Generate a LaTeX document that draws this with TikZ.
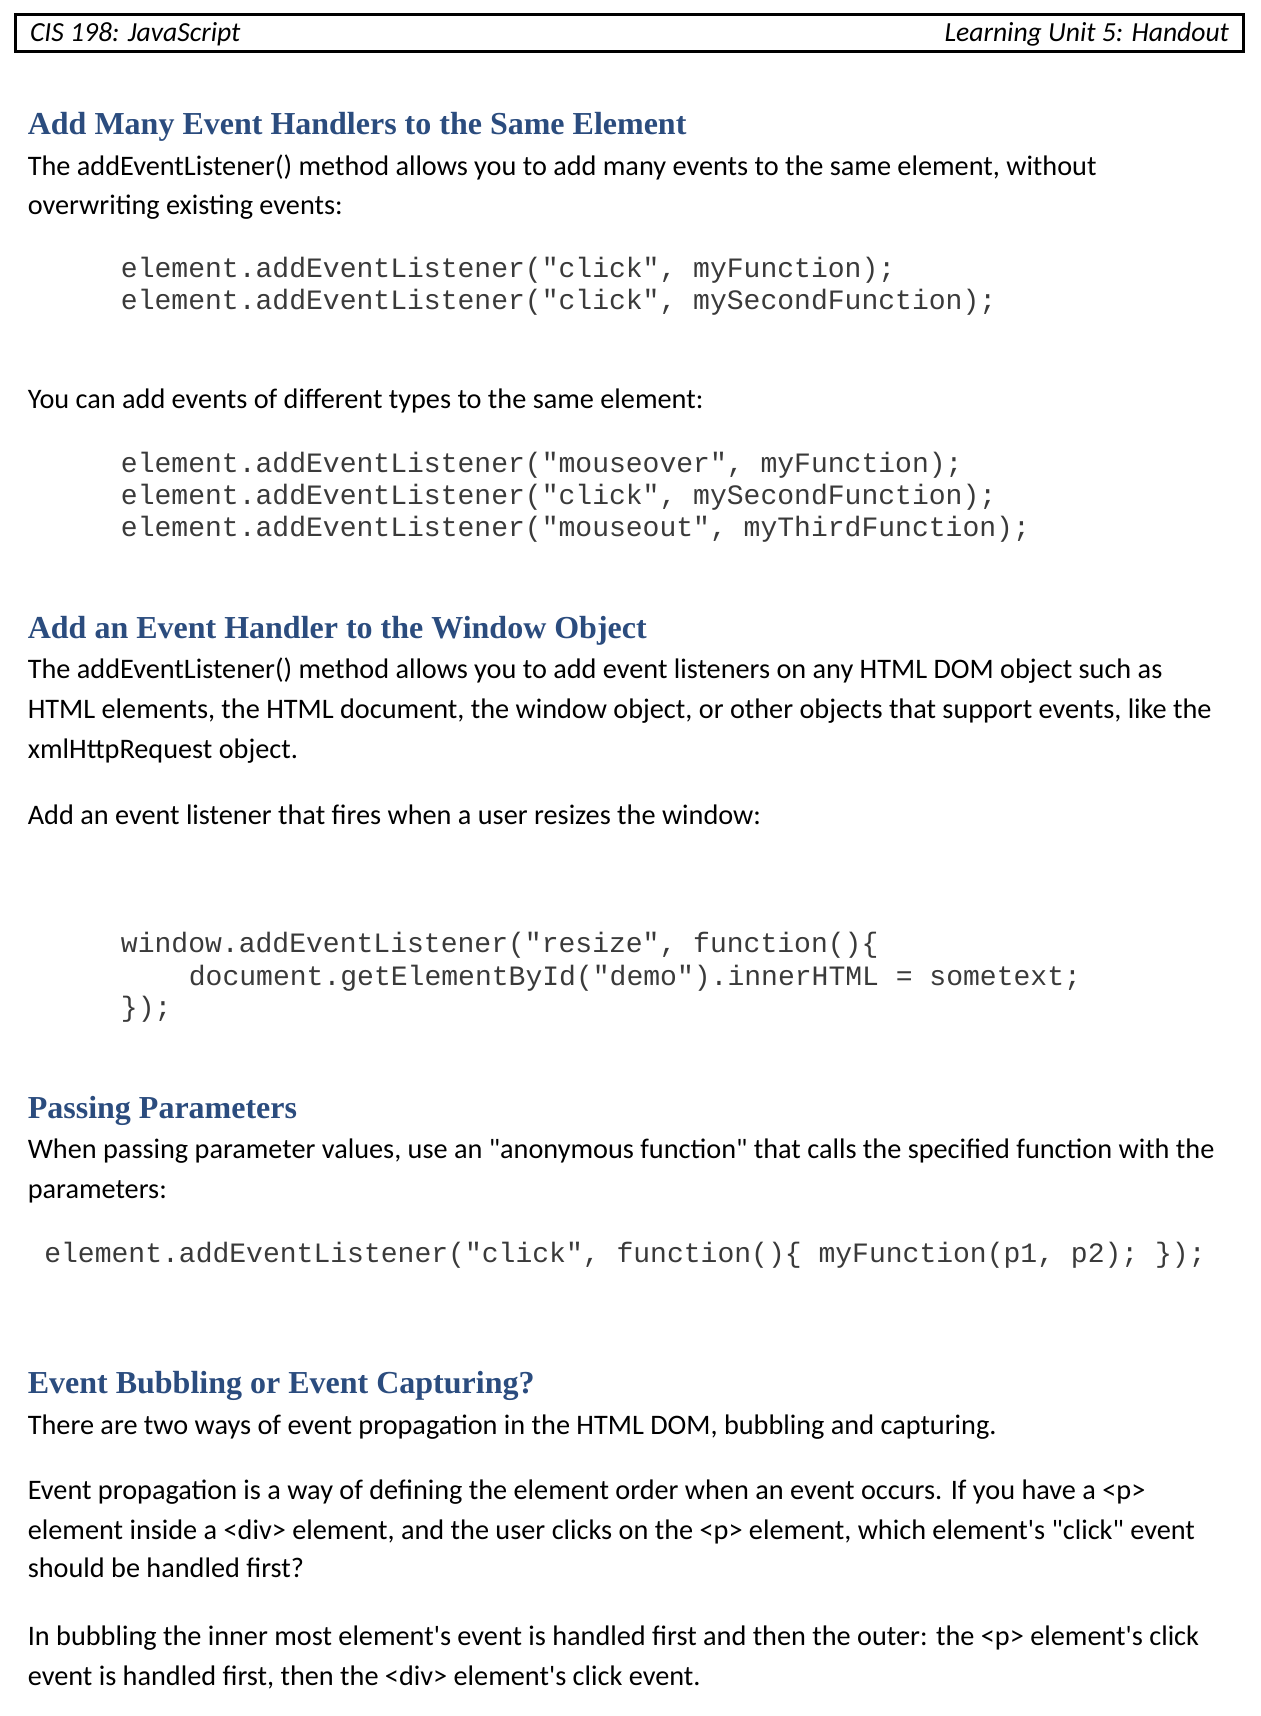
\documentclass[tikz,border=0pt]{standalone}
\usepackage{fontspec}
\setmainfont{Carlito}[Ligatures=TeXOff]
\newfontfamily\headf{Liberation Serif}
\setmonofont{Liberation Mono}
\definecolor{headblue}{HTML}{2B4C7E}
\definecolor{codegray}{HTML}{3A3A3A}
\begin{document}
\begin{tikzpicture}[x=0.5pt,y=-0.5pt,
  every node/.style={inner sep=0pt,anchor=base west},
  body/.style={font=\fontsize{12.9}{15}\selectfont},
  head/.style={font=\headf\bfseries\fontsize{14.6}{16}\selectfont,text=headblue},
  code/.style={font=\ttfamily\fontsize{12.8}{14}\selectfont,text=codegray},
  top/.style={font=\itshape\fontsize{12.6}{14}\selectfont}]
\useasboundingbox (0,0) rectangle (1150,1566);
\draw[line width=1.5pt] (14,13) rectangle (1135,47);
\node[top] (t1) at (27,38) {CIS 198: JavaScript};
\node[top,anchor=base east] (t2) at (1122,38) {Learning Unit 5: Handout};

\node[head] (h1) at (25,123) {Add Many Event Handlers to the Same Element};
\node[body] (b1) at (25,160) {The addEventListener() method allows you to add many events to the same element, without};
\node[body] (b2) at (25,196) {overwriting existing events:};
\node[code] (c1) at (110,253) {element.addEventListener("click", myFunction);};
\node[code] (c2) at (110,282) {element.addEventListener("click", mySecondFunction);};
\node[body] (b3) at (25,373) {You can add events of different types to the same element:};
\node[code] (c3) at (110,431) {element.addEventListener("mouseover", myFunction);};
\node[code] (c4) at (110,460) {element.addEventListener("click", mySecondFunction);};
\node[code] (c5) at (110,490) {element.addEventListener("mouseout", myThirdFunction);};

\node[head] (h2) at (25,583) {Add an Event Handler to the Window Object};
\node[body] (b4) at (25,619) {The addEventListener() method allows you to add event listeners on any HTML DOM object such as};
\node[body] (b5) at (25,656) {HTML elements, the HTML document, the window object, or other objects that support events, like the};
\node[body] (b6) at (25,692) {xmlHttpRequest object.};
\node[body] (b7) at (25,752) {Add an event listener that fires when a user resizes the window:};
\node[code] (c6) at (110,869) {window.addEventListener("resize", function()\{};
\node[code] (c7) at (172,899) {document.getElementById("demo").innerHTML = sometext;};
\node[code] (c8) at (110,928) {\});};

\node[head] (h3) at (25,1021) {Passing Parameters};
\node[body] (b8) at (25,1057) {When passing parameter values, use an "anonymous function" that calls the specified function with the};
\node[body] (b9) at (25,1094) {parameters:};
\node[code] (c9) at (40,1152) {element.addEventListener("click", function()\{ myFunction(p1, p2); \});};

\node[head] (h4) at (25,1272) {Event Bubbling or Event Capturing?};
\node[body] (b10) at (25,1309) {There are two ways of event propagation in the HTML DOM, bubbling and capturing.};
\node[body] (b11) at (25,1368) {Event propagation is a way of defining the element order when an event occurs. If you have a <p>};
\node[body] (b12) at (25,1405) {element inside a <div> element, and the user clicks on the <p> element, which element's "click" event};
\node[body] (b13) at (25,1440) {should be handled first?};
\node[body] (b14) at (25,1502) {In bubbling the inner most element's event is handled first and then the outer: the <p> element's click};
\node[body] (b15) at (25,1538) {event is handled first, then the <div> element's click event.};
\end{tikzpicture}
\end{document}
